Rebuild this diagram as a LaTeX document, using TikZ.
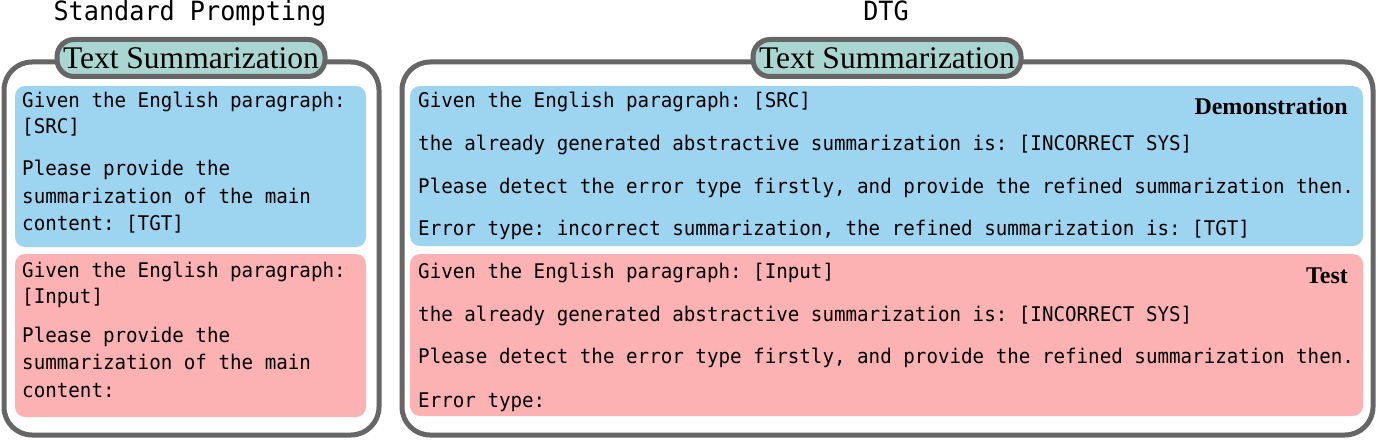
\documentclass[tikz,border=0pt]{standalone}
\usepackage{fontspec}
\setmainfont{Liberation Serif}
\setmonofont[FakeStretch=0.95]{DejaVu Sans Mono}
\definecolor{boxblue}{RGB}{157,213,240}
\definecolor{boxred}{RGB}{252,178,179}
\definecolor{pillteal}{RGB}{170,214,210}
\definecolor{framegray}{RGB}{102,102,102}
\tikzset{
  outerbox/.style={draw=framegray, line width=5pt, rounded corners=28pt, inner sep=0pt, outer sep=0pt, anchor=north west, fill=white},
  pill/.style={draw=framegray, line width=5pt, fill=pillteal, rounded corners=17pt, inner sep=0pt, outer sep=0pt, minimum width=268pt, minimum height=37pt, font=\fontsize{31.5}{33}\selectfont},
  bluebox/.style={fill=boxblue, rounded corners=10pt, inner sep=0pt, outer sep=0pt, anchor=north west},
  redbox/.style={fill=boxred, rounded corners=10pt, inner sep=0pt, outer sep=0pt, anchor=north west},
  mono/.style={anchor=base west, inner sep=0pt, font=\fontsize{20.2}{23}\selectfont\ttfamily},
  title/.style={anchor=base, inner sep=0pt, font=\fontsize{26.5}{28}\selectfont\ttfamily},
  tag/.style={anchor=base east, inner sep=0pt, font=\fontsize{24}{26}\selectfont\bfseries},
}
\begin{document}
\begin{tikzpicture}[x=1pt,y=-1pt]
\useasboundingbox (0,0) rectangle (1378,441);
% titles
\node[title] (t1) at (190,21) {Standard Prompting};
\node[title] (t2) at (886,21) {DTG};
% outer frames
\node[outerbox, minimum width=375pt, minimum height=373pt] (lo) at (4,62) {};
\node[outerbox, minimum width=971pt, minimum height=373pt] (ro) at (402,62) {};
% inner boxes
\node[bluebox, minimum width=351pt, minimum height=161pt] (lb) at (15,86) {};
\node[redbox, minimum width=351pt, minimum height=163pt] (lr) at (15,254) {};
\node[bluebox, minimum width=953pt, minimum height=160pt] (rb) at (410,86) {};
\node[redbox, minimum width=953pt, minimum height=162pt] (rr) at (410,254) {};
% pills
\node[pill] (lp) at (191,58) {Text Summarization};
\node[pill] (rp) at (887,58) {Text Summarization};
% left blue text
\node[mono] (a1) at (22,108) {Given the English paragraph:};
\node[mono] (a2) at (22,134) {[SRC]};
\node[mono] (a3) at (22,175) {Please provide the};
\node[mono] (a4) at (22,203) {summarization of the main};
\node[mono] (a5) at (22,230) {content: [TGT]};
% left red text
\node[mono] (b1) at (22,277) {Given the English paragraph:};
\node[mono] (b2) at (22,303) {[Input]};
\node[mono] (b3) at (22,342) {Please provide the};
\node[mono] (b4) at (22,369) {summarization of the main};
\node[mono] (b5) at (22,397) {content:};
% right blue text
\node[mono] (c1) at (418,108) {Given the English paragraph: [SRC]};
\node[mono] (c2) at (418,150) {the already generated abstractive summarization is: [INCORRECT SYS]};
\node[mono] (c3) at (418,193) {Please detect the error type firstly, and provide the refined summarization then.};
\node[mono] (c4) at (418,235) {Error type: incorrect summarization, the refined summarization is: [TGT]};
\node[tag] (dm) at (1348,115) {Demonstration};
% right red text
\node[mono] (d1) at (418,278) {Given the English paragraph: [Input]};
\node[mono] (d2) at (418,321) {the already generated abstractive summarization is: [INCORRECT SYS]};
\node[mono] (d3) at (418,363) {Please detect the error type firstly, and provide the refined summarization then.};
\node[mono] (d4) at (418,407) {Error type:};
\node[tag] (ts) at (1348,283) {Test};
\end{tikzpicture}
\end{document}
